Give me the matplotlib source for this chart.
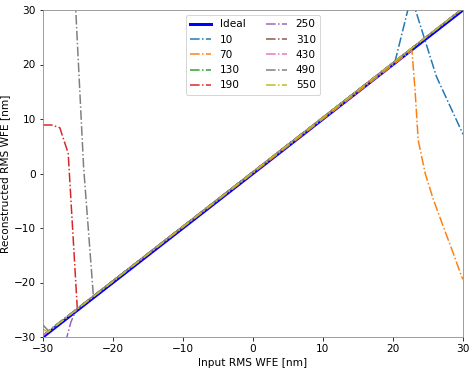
import numpy as np
import matplotlib.pyplot as plt

nan = np.nan

# ideal reconstruction
ideal_x = [-30, 30]
ideal_y = [-30, 30]

labels = ['10', '70', '130', '190', '250', '310', '430', '490', '550']
colors = ['tab:blue', 'tab:orange', 'tab:green', 'tab:red', 'tab:purple',
          'tab:brown', 'tab:pink', 'tab:gray', 'tab:olive']

x10 = [-30, 20.3, 22.6, 26.2, 30]
y10 = [-29.7, 20.6, 32.5, 17.8, 7.2]

x70 = [-30, 22.7, 23.15, 23.6, 24.6, 25.8, 27.2, 28.6, 29.8, 30]
y70 = [-29.7, 22.6, 15.3, 6.1, 0.0, -4.9, -9.8, -14.6, -18.9, -19.4]

x130 = [-30, 30]
y130 = [-29.7, 30.3]

x190 = [-30, -28.8, -27.6, -26.4, -25.1, 30]
y190 = [8.9, 8.9, 8.4, 3.7, -24.8, 30.3]

x250 = [-26.8, -26.0, -25.2, 30]
y250 = [-31.0, -27.2, -24.9, 30.3]

x310 = [-30, 30]
y310 = [-29.7, 30.3]

x430 = [-30, 30]
y430 = [-29.7, 30.3]

x490 = [-30, -29.2, 30, nan, -25.4, -24.2, -22.8, 30]
y490 = [-27.8, -28.9, 30.3, nan, 32.0, 1.2, -22.5, 30.3]

x550 = [-30, -29.3, 30]
y550 = [-28.6, -29.1, 30.3]

xs = [x10, x70, x130, x190, x250, x310, x430, x490, x550]
ys = [y10, y70, y130, y190, y250, y310, y430, y490, y550]

plt.rcParams['font.size'] = 10.5

fig = plt.figure(figsize=(474 / 72, 370 / 72), dpi=72)
ax = fig.add_axes([43 / 474, 1 - 337 / 370, 420 / 474, 327 / 370])

ax.plot(ideal_x, ideal_y, color='blue', lw=3, label='Ideal')
for x, y, c, lab in zip(xs, ys, colors, labels):
    ax.plot(x, y, '-.', color=c, lw=1.5, label=lab)

ax.set_xlim(-30, 30)
ax.set_ylim(-30, 30)
ax.set_xlabel('Input RMS WFE [nm]')
ax.set_ylabel('Reconstructed RMS WFE [nm]')
for s in ax.spines.values():
    s.set_color('#888888')
ax.legend(loc='upper center', ncol=2)

fig.savefig('out.png', dpi=72)
